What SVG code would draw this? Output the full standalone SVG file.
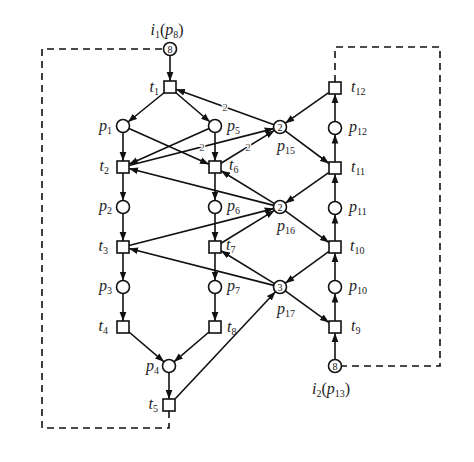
<svg xmlns="http://www.w3.org/2000/svg" width="474" height="462" viewBox="0 0 474 462">
<style>
.pl{fill:#fff;stroke:#111;stroke-width:1.6}
.tr{fill:#fff;stroke:#111;stroke-width:1.6}
.e{stroke:#111;stroke-width:1.6;fill:none;marker-end:url(#ah)}
.d{stroke:#111;stroke-width:1.6;fill:none;stroke-dasharray:7,5}
.lb{font-family:"Liberation Serif",serif;font-style:italic;font-size:16px;fill:#222}
.sb{font-size:10px;font-style:normal}
.tk{font-family:"Liberation Serif",serif;font-size:10px;fill:#111;text-anchor:middle}
.w{font-family:"Liberation Serif",serif;font-size:11px;fill:#555;text-anchor:middle;stroke:#fff;stroke-width:2.5;paint-order:stroke}
</style>
<defs>
<marker id="ah" markerUnits="userSpaceOnUse" markerWidth="10" markerHeight="8" refX="9" refY="4" orient="auto">
<path d="M0,0.6 L9,4 L0,7.4 Z" fill="#111"/>
</marker>
</defs>
<rect width="474" height="462" fill="#fff"/>
<g id="connectors">
<path class="d" d="M169,411 V428 H42 V49 H163"/>
<path class="d" d="M335,82 V47 H440 V366 H342"/>
<line class="e" x1="170" y1="55.5" x2="170" y2="81"/>
<line class="e" x1="165" y1="92" x2="128" y2="122"/>
<line class="e" x1="175" y1="92" x2="210" y2="122"/>
<line class="e" x1="274" y1="124.8" x2="176" y2="89.2"/>
<line class="e" x1="123" y1="132.5" x2="123" y2="161"/>
<line class="e" x1="215" y1="132.5" x2="215" y2="161"/>
<line class="e" x1="129" y1="128.6" x2="209" y2="164.3"/>
<line class="e" x1="209" y1="128.6" x2="129" y2="164.3"/>
<line class="e" x1="129" y1="165.5" x2="273.7" y2="128.6"/>
<line class="e" x1="221" y1="163.3" x2="274.5" y2="130.4"/>
<line class="e" x1="273.7" y1="205.4" x2="129" y2="168.5"/>
<line class="e" x1="274.5" y1="203.6" x2="221" y2="170.7"/>
<line class="e" x1="129" y1="245.5" x2="273.7" y2="208.6"/>
<line class="e" x1="221" y1="243.3" x2="274.5" y2="210.4"/>
<line class="e" x1="273.7" y1="285.4" x2="129" y2="248.5"/>
<line class="e" x1="274.5" y1="283.6" x2="221" y2="250.7"/>
<line class="e" x1="175" y1="399" x2="275.5" y2="291.7"/>
<line class="e" x1="129" y1="332" x2="164" y2="361.8"/>
<line class="e" x1="209" y1="332" x2="174" y2="361.8"/>
<line class="e" x1="169" y1="372.5" x2="169" y2="399"/>
<line class="e" x1="123" y1="173" x2="123" y2="200.5"/>
<line class="e" x1="123" y1="213.5" x2="123" y2="241"/>
<line class="e" x1="123" y1="253" x2="123" y2="280.5"/>
<line class="e" x1="123" y1="293.5" x2="123" y2="321"/>
<line class="e" x1="215" y1="173" x2="215" y2="200.5"/>
<line class="e" x1="215" y1="213.5" x2="215" y2="241"/>
<line class="e" x1="215" y1="253" x2="215" y2="280.5"/>
<line class="e" x1="215" y1="293.5" x2="215" y2="321"/>
<line class="e" x1="335" y1="359.5" x2="335" y2="333"/>
<line class="e" x1="335" y1="321" x2="335" y2="293.5"/>
<line class="e" x1="335" y1="280.5" x2="335" y2="253"/>
<line class="e" x1="335" y1="241" x2="335" y2="214.5"/>
<line class="e" x1="335" y1="201.5" x2="335" y2="174"/>
<line class="e" x1="335" y1="162" x2="335" y2="134.5"/>
<line class="e" x1="335" y1="121.5" x2="335" y2="94"/>
<line class="e" x1="329" y1="92.3" x2="285.3" y2="123.2"/>
<line class="e" x1="285.2" y1="130.9" x2="329" y2="163.5"/>
<line class="e" x1="329" y1="172.3" x2="285.3" y2="203.2"/>
<line class="e" x1="285.3" y1="210.8" x2="329" y2="242.6"/>
<line class="e" x1="329" y1="251.4" x2="285.3" y2="283.2"/>
<line class="e" x1="285.3" y1="290.8" x2="329" y2="322.6"/>
<text class="w" x="225" y="111">2</text>
<text class="w" x="202" y="151">2</text>
<text class="w" x="248" y="151">2</text>
</g>
<g id="i1"><circle class="pl" cx="170" cy="49" r="6.5"/><text class="tk" x="170" y="52.5">8</text>
<text class="lb" x="167" y="35" text-anchor="middle">i<tspan class="sb" dy="3">1</tspan><tspan dy="-3" font-style="normal">(</tspan>p<tspan class="sb" dy="3">8</tspan><tspan dy="-3" font-style="normal">)</tspan></text></g>
<g id="t1"><rect class="tr" x="164" y="81" width="12" height="12"/><text class="lb" x="159" y="92" text-anchor="end">t<tspan class="sb" dy="3">1</tspan></text></g>
<g id="p1"><circle class="pl" cx="123" cy="126" r="6.5"/><text class="lb" x="112" y="131" text-anchor="end">p<tspan class="sb" dy="3">1</tspan></text></g>
<g id="p5"><circle class="pl" cx="215" cy="126" r="6.5"/><text class="lb" x="227" y="131">p<tspan class="sb" dy="3">5</tspan></text></g>
<g id="p15"><circle class="pl" cx="280" cy="127" r="6.5"/><text class="tk" x="280" y="130.5">2</text><text class="lb" x="277" y="151">p<tspan class="sb" dy="3">15</tspan></text></g>
<g id="t2"><rect class="tr" x="117" y="161" width="12" height="12"/><text class="lb" x="109" y="171" text-anchor="end">t<tspan class="sb" dy="3">2</tspan></text></g>
<g id="t6"><rect class="tr" x="209" y="161" width="12" height="12"/><text class="lb" x="229" y="170">t<tspan class="sb" dy="3">6</tspan></text></g>
<g id="p2"><circle class="pl" cx="123" cy="207" r="6.5"/><text class="lb" x="112" y="211" text-anchor="end">p<tspan class="sb" dy="3">2</tspan></text></g>
<g id="p6"><circle class="pl" cx="215" cy="207" r="6.5"/><text class="lb" x="227" y="211">p<tspan class="sb" dy="3">6</tspan></text></g>
<g id="p16"><circle class="pl" cx="280" cy="207" r="6.5"/><text class="tk" x="280" y="210.5">2</text><text class="lb" x="277" y="231">p<tspan class="sb" dy="3">16</tspan></text></g>
<g id="t3"><rect class="tr" x="117" y="241" width="12" height="12"/><text class="lb" x="108" y="251" text-anchor="end">t<tspan class="sb" dy="3">3</tspan></text></g>
<g id="t7"><rect class="tr" x="209" y="241" width="12" height="12"/><text class="lb" x="226" y="250">t<tspan class="sb" dy="3">7</tspan></text></g>
<g id="p3"><circle class="pl" cx="123" cy="287" r="6.5"/><text class="lb" x="112" y="291" text-anchor="end">p<tspan class="sb" dy="3">3</tspan></text></g>
<g id="p7"><circle class="pl" cx="215" cy="287" r="6.5"/><text class="lb" x="227" y="291">p<tspan class="sb" dy="3">7</tspan></text></g>
<g id="p17"><circle class="pl" cx="280" cy="287" r="6.5"/><text class="tk" x="280" y="290.5">3</text><text class="lb" x="277" y="314">p<tspan class="sb" dy="3">17</tspan></text></g>
<g id="t4"><rect class="tr" x="117" y="321" width="12" height="12"/><text class="lb" x="108" y="331" text-anchor="end">t<tspan class="sb" dy="3">4</tspan></text></g>
<g id="t8"><rect class="tr" x="209" y="321" width="12" height="12"/><text class="lb" x="227" y="332">t<tspan class="sb" dy="3">8</tspan></text></g>
<g id="p4"><circle class="pl" cx="169" cy="366" r="6.5"/><text class="lb" x="159" y="371" text-anchor="end">p<tspan class="sb" dy="3">4</tspan></text></g>
<g id="t5"><rect class="tr" x="163" y="399" width="12" height="12"/><text class="lb" x="158" y="409" text-anchor="end">t<tspan class="sb" dy="3">5</tspan></text></g>
<g id="t12"><rect class="tr" x="329" y="82" width="12" height="12"/><text class="lb" x="351" y="92">t<tspan class="sb" dy="3">12</tspan></text></g>
<g id="p12"><circle class="pl" cx="335" cy="128" r="6.5"/><text class="lb" x="349" y="132">p<tspan class="sb" dy="3">12</tspan></text></g>
<g id="t11"><rect class="tr" x="329" y="162" width="12" height="12"/><text class="lb" x="351" y="172">t<tspan class="sb" dy="3">11</tspan></text></g>
<g id="p11"><circle class="pl" cx="335" cy="208" r="6.5"/><text class="lb" x="349" y="212">p<tspan class="sb" dy="3">11</tspan></text></g>
<g id="t10"><rect class="tr" x="329" y="241" width="12" height="12"/><text class="lb" x="350" y="251">t<tspan class="sb" dy="3">10</tspan></text></g>
<g id="p10"><circle class="pl" cx="335" cy="287" r="6.5"/><text class="lb" x="349" y="291">p<tspan class="sb" dy="3">10</tspan></text></g>
<g id="t9"><rect class="tr" x="329" y="321" width="12" height="12"/><text class="lb" x="351" y="331">t<tspan class="sb" dy="3">9</tspan></text></g>
<g id="i2"><circle class="pl" cx="335" cy="366" r="6.5"/><text class="tk" x="335" y="369.5">8</text>
<text class="lb" x="331" y="394" text-anchor="middle">i<tspan class="sb" dy="3">2</tspan><tspan dy="-3" font-style="normal">(</tspan>p<tspan class="sb" dy="3">13</tspan><tspan dy="-3" font-style="normal">)</tspan></text></g>
</svg>
